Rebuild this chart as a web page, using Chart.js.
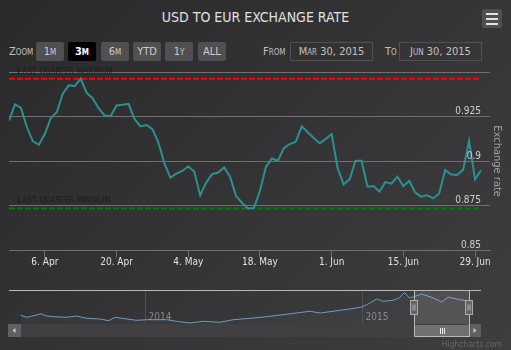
<!DOCTYPE html>
<html>
<head>
<meta charset="utf-8">
<title>USD to EUR exchange rate</title>
<script src="https://cdn.jsdelivr.net/npm/chart.js@4.4.1/dist/chart.umd.min.js"></script>
<style>
  html, body { margin: 0; padding: 0; }
  body {
    width: 511px; height: 350px; overflow: hidden; position: relative;
    background: linear-gradient(135deg, #2a2a2b 0%, #3e3e40 100%);
    font-family: "Liberation Sans Narrow", "DejaVu Sans Condensed", "Roboto Condensed", sans-serif;
    color: #E0E0E3;
  }
  #title {
    position: absolute; left: 0; top: 7px; width: 511px; text-align: center;
    font-size: 14px; line-height: 20px; letter-spacing: 0; color: #E0E0E3;
  }
  #menu {
    position: absolute; left: 482px; top: 9px; width: 20px; height: 19px;
    background: #505053; border-radius: 2px;
  }
  #menu span {
    position: absolute; left: 4px; width: 12px; height: 2px; background: #E0E0E3;
  }
  .ui {
    position: absolute; top: 42px; height: 19px; line-height: 19px;
    font-size: 11px; font-variant: small-caps; color: #C0C0C3;
  }
  .btn {
    width: 28px; text-align: center; background: #505053; color: #CCC; border-radius: 2px;
  }
  .btn.sel { background: #000003; color: #FFF; font-weight: bold; }
  .box {
    box-sizing: border-box; width: 83px; text-align: center;
    border: 1px solid #505053; color: #C0C0C0; line-height: 17px;
  }
  #mainWrap { position: absolute; left: 0; top: 0; width: 511px; height: 270px; }
  #navWrap { position: absolute; left: 0; top: 280px; width: 511px; height: 70px; }
  #credits {
    position: absolute; right: 9px; bottom: 1px; font-size: 8.5px; color: #666;
  }
</style>
</head>
<body>
<div id="title">USD TO EUR EXCHANGE RATE</div>
<div id="menu"><span style="top:4px"></span><span style="top:9px"></span><span style="top:14px"></span></div>

<div class="ui" style="left:9px">Zoom</div>
<div class="ui btn" style="left:36px">1m</div>
<div class="ui btn sel" style="left:68px">3m</div>
<div class="ui btn" style="left:101px">6m</div>
<div class="ui btn" style="left:133px">YTD</div>
<div class="ui btn" style="left:165px">1y</div>
<div class="ui btn" style="left:198px">ALL</div>
<div class="ui" style="left:263px">From</div>
<div class="ui box" id="fromBox" style="left:290px"></div>
<div class="ui" style="left:385px">To</div>
<div class="ui box" id="toBox" style="left:399px"></div>

<div id="mainWrap"><canvas id="mainChart"></canvas></div>
<div id="navWrap"><canvas id="navChart"></canvas></div>
<div id="credits">Highcharts.com</div>

<script>
"use strict";

const fontStack = '"Liberation Sans Narrow", "DejaVu Sans Condensed", "Roboto Condensed", sans-serif';

// daily rates shown in the main panel, 30 Mar 2015 to 30 Jun 2015
const rates = [
  0.9227, 0.9318, 0.9299, 0.9190, 0.9111, 0.9092, 0.9152, 0.9242, 0.9274, 0.9378,
  0.9425, 0.9421, 0.9462, 0.9383, 0.9353, 0.9297, 0.9256, 0.9252, 0.9312, 0.9316,
  0.9321, 0.9237, 0.9195, 0.9203, 0.9180, 0.9105, 0.8989, 0.8908, 0.8930, 0.8945,
  0.8970, 0.8942, 0.8808, 0.8880, 0.8927, 0.8936, 0.8964, 0.8913, 0.8804, 0.8767,
  0.8735, 0.8737, 0.8833, 0.8968, 0.9015, 0.9002, 0.9073, 0.9096, 0.9109, 0.9195,
  0.9162, 0.9130, 0.9100, 0.9124, 0.9152, 0.8960, 0.8870, 0.8898, 0.9002, 0.9002,
  0.8857, 0.8861, 0.8829, 0.8883, 0.8874, 0.8913, 0.8861, 0.8889, 0.8823, 0.8801,
  0.8808, 0.8791, 0.8819, 0.8951, 0.8925, 0.8923, 0.8951, 0.9115, 0.8898, 0.8949,
];

const dateTickIndex = [6, 18, 30, 42, 54, 66, 78];
const dateTickLabels = ["6. Apr", "20. Apr", "4. May", "18. May", "1. Jun", "15. Jun", "29. Jun"];

const rateTicks = [0.85, 0.875, 0.9, 0.925, 0.95];
const rateTickLabels = ["0.85", "0.875", "0.9", "0.925", ""];
const rateAxisTitle = "Exchange rate";

const rangeFrom = "2015-03-30";
const rangeTo = "2015-06-30";

// long history for the navigator strip
const navDates = [
  "2013-06-05", "2013-06-15", "2013-06-23", "2013-07-09", "2013-07-16", "2013-07-30",
  "2013-08-21", "2013-09-07", "2013-09-24", "2013-10-17", "2013-10-31", "2013-11-11",
  "2013-12-01", "2013-12-17", "2014-01-03", "2014-02-06", "2014-02-23", "2014-03-17",
  "2014-04-09", "2014-05-07", "2014-05-29", "2014-06-27", "2014-07-30", "2014-09-02",
  "2014-10-06", "2014-10-23", "2014-11-20", "2014-12-12", "2015-01-01", "2015-01-15",
  "2015-01-26", "2015-02-06", "2015-02-23", "2015-03-05", "2015-03-14", "2015-03-22",
  "2015-04-01", "2015-04-12", "2015-04-29", "2015-05-16", "2015-05-27", "2015-06-10",
  "2015-06-30",
];
const navRates = [
  0.7755, 0.7603, 0.7679, 0.7876, 0.7725, 0.7649,
  0.7603, 0.7702, 0.7527, 0.7474, 0.7345, 0.7603,
  0.7474, 0.7376, 0.7421, 0.7421, 0.7300, 0.7171,
  0.7300, 0.7224, 0.7421, 0.7527, 0.7679, 0.7876,
  0.8058, 0.7929, 0.8104, 0.8233, 0.8385, 0.8688,
  0.8992, 0.8817, 0.8893, 0.9068, 0.9500, 0.9068,
  0.9197, 0.9371, 0.9121, 0.8764, 0.9143, 0.8992,
  0.8817,
];
const navYears = ["2014", "2015"];
const navWindow = ["2013-05-16", "2015-07-21"];

const monthNames = ["Jan", "Feb", "Mar", "Apr", "May", "Jun", "Jul", "Aug", "Sep", "Oct", "Nov", "Dec"];

function dayNumber(iso) {
  return Date.parse(iso) / 86400000;
}

function formatDate(iso) {
  let d = new Date(iso);
  return monthNames[d.getUTCMonth()] + " " + d.getUTCDate() + ", " + d.getUTCFullYear();
}

document.getElementById("fromBox").textContent = formatDate(rangeFrom);
document.getElementById("toBox").textContent = formatDate(rangeTo);

const maxRate = Math.max(...rates);
const minRate = Math.min(...rates);

const plotLines = [
  { value: maxRate, text: "Last quarter maximum" },
  { value: minRate, text: "Last quarter minimum" },
];

Chart.defaults.font.family = fontStack;

// text labels sitting just above the max / min lines
const plotLineLabels = {
  id: "plotLineLabels",
  afterDatasetsDraw(chart) {
    let ctx = chart.ctx;
    let y = chart.scales.y;
    ctx.save();
    ctx.font = "small-caps 11px " + fontStack;
    ctx.fillStyle = "#1e1e1e";
    ctx.textAlign = "left";
    ctx.textBaseline = "alphabetic";
    for (let line of plotLines) {
      ctx.fillText(line.text, chart.chartArea.left + 8, y.getPixelForValue(line.value) - 5);
    }
    ctx.restore();
  },
};

// y labels sit inside the plot, right aligned, just above each grid line;
// the axis title runs down the right edge
const rateAxisLabels = {
  id: "rateAxisLabels",
  afterDraw(chart) {
    let ctx = chart.ctx;
    let a = chart.chartArea;
    let y = chart.scales.y;
    ctx.save();
    ctx.font = "10px " + fontStack;
    ctx.fillStyle = "#D0D0D3";
    ctx.textAlign = "right";
    ctx.textBaseline = "middle";
    rateTicks.forEach((v, i) => {
      ctx.fillText(rateTickLabels[i], a.right - 9, y.getPixelForValue(v) - 5);
    });
    ctx.translate(a.right + 7, (a.top + a.bottom) / 2);
    ctx.rotate(Math.PI / 2);
    ctx.font = "11px " + fontStack;
    ctx.fillStyle = "#A0A0A3";
    ctx.textAlign = "center";
    ctx.fillText(rateAxisTitle, 0, 0);
    ctx.restore();
  },
};

function flatLine(value) {
  return [{ x: 0, y: value }, { x: rates.length - 1, y: value }];
}

new Chart(document.getElementById("mainChart"), {
  type: "line",
  data: {
    datasets: [
      {
        label: "USD to EUR",
        data: rates.map((r, i) => ({ x: i, y: r })),
        borderColor: "#2b908f",
        borderWidth: 2,
        pointRadius: 0,
        tension: 0,
      },
      {
        label: "Last quarter maximum",
        data: flatLine(maxRate),
        borderColor: "#ff0000",
        borderWidth: 2,
        borderDash: [6, 2],
        pointRadius: 0,
      },
      {
        label: "Last quarter minimum",
        data: flatLine(minRate),
        borderColor: "#008000",
        borderWidth: 2,
        borderDash: [6, 2],
        pointRadius: 0,
      },
    ],
  },
  options: {
    animation: false,
    responsive: true,
    maintainAspectRatio: false,
    layout: { padding: { left: 9, top: 72, right: 21, bottom: 2.7 } },
    plugins: { legend: { display: false }, tooltip: { enabled: false } },
    scales: {
      x: {
        type: "linear",
        min: 0,
        max: rates.length + 0.5,
        afterBuildTicks: (scale) => {
          scale.ticks = dateTickIndex.map((v) => ({ value: v }));
        },
        ticks: {
          autoSkip: false,
          maxRotation: 0,
          padding: -1,
          color: "#E0E0E3",
          font: { size: 10 },
          callback: (value) => dateTickLabels[dateTickIndex.indexOf(value)],
        },
        grid: { drawOnChartArea: false, color: "#707073", tickLength: 7 },
        border: { color: "#707073" },
      },
      y: {
        position: "right",
        min: 0.85,
        max: 0.95,
        afterBuildTicks: (scale) => {
          scale.ticks = rateTicks.map((v) => ({ value: v }));
        },
        ticks: { display: false },
        grid: { color: "#707073", drawTicks: false },
        border: { display: false },
      },
    },
  },
  plugins: [plotLineLabels, rateAxisLabels],
});

// year grid, selection mask, handles and scrollbar of the navigator
const navDecor = {
  id: "navDecor",
  beforeDatasetsDraw(chart) {
    let ctx = chart.ctx;
    let a = chart.chartArea;
    let x = chart.scales.x;
    ctx.save();
    ctx.strokeStyle = "#505053";
    ctx.lineWidth = 1;
    ctx.fillStyle = "#888";
    ctx.font = "10px " + fontStack;
    ctx.textBaseline = "alphabetic";
    for (let year of navYears) {
      let px = Math.round(x.getPixelForValue(dayNumber(year + "-01-01"))) + 0.5;
      ctx.beginPath();
      ctx.moveTo(px, a.top);
      ctx.lineTo(px, a.bottom);
      ctx.stroke();
      ctx.fillText(year, px + 3, a.bottom - 4);
    }
    ctx.restore();
  },
  afterDatasetsDraw(chart) {
    let ctx = chart.ctx;
    let a = chart.chartArea;
    let x = chart.scales.x;
    let xs = Math.round(x.getPixelForValue(dayNumber(rangeFrom))) + 0.5;
    let xe = Math.round(x.getPixelForValue(dayNumber(rangeTo))) + 0.5;
    let barTop = a.bottom;
    let barBottom = a.bottom + 13;
    ctx.save();

    // scrollbar track and buttons
    ctx.fillStyle = "#404043";
    ctx.fillRect(a.left - 1, barTop, a.right - a.left + 1, 13);
    ctx.fillStyle = "#606063";
    ctx.fillRect(a.left - 1, barTop, 13, 13);
    ctx.fillRect(a.right - 13, barTop, 13, 13);
    ctx.fillStyle = "#CCC";
    ctx.beginPath();
    ctx.moveTo(a.left + 3.5, barTop + 6.5);
    ctx.lineTo(a.left + 6.5, barTop + 4);
    ctx.lineTo(a.left + 6.5, barTop + 9);
    ctx.fill();
    ctx.beginPath();
    ctx.moveTo(a.right - 4.5, barTop + 6.5);
    ctx.lineTo(a.right - 7.5, barTop + 4);
    ctx.lineTo(a.right - 7.5, barTop + 9);
    ctx.fill();

    // scrollbar thumb with rifles
    ctx.fillStyle = "#707073";
    ctx.fillRect(xs, barTop + 1, xe - xs, 12);
    ctx.strokeStyle = "#EEE";
    ctx.lineWidth = 1;
    let mid = Math.round((xs + xe) / 2) + 0.5;
    for (let k = -2; k <= 2; k += 2) {
      ctx.beginPath();
      ctx.moveTo(mid + k, barTop + 4);
      ctx.lineTo(mid + k, barTop + 10);
      ctx.stroke();
    }

    // selected range mask
    ctx.fillStyle = "rgba(255,255,255,0.1)";
    ctx.fillRect(xs, a.top, xe - xs, a.bottom - a.top);

    // outline
    ctx.strokeStyle = "#B8B8B8";
    ctx.beginPath();
    ctx.moveTo(a.left, a.top + 0.5);
    ctx.lineTo(a.right, a.top + 0.5);
    ctx.moveTo(xs, a.top);
    ctx.lineTo(xs, barBottom - 0.5);
    ctx.lineTo(xe, barBottom - 0.5);
    ctx.lineTo(xe, a.top);
    ctx.stroke();

    // handles
    for (let hx of [xs, xe]) {
      let top = a.top + 10.5;
      ctx.fillStyle = "#666";
      ctx.fillRect(hx - 4, top, 7, 14);
      ctx.strokeStyle = "#AAA";
      ctx.strokeRect(hx - 4, top, 7, 14);
      ctx.beginPath();
      ctx.moveTo(hx - 1.5, top + 4);
      ctx.lineTo(hx - 1.5, top + 10);
      ctx.moveTo(hx + 0.5, top + 4);
      ctx.lineTo(hx + 0.5, top + 10);
      ctx.stroke();
    }
    ctx.restore();
  },
};

new Chart(document.getElementById("navChart"), {
  type: "line",
  data: {
    datasets: [
      {
        label: "USD to EUR",
        data: navDates.map((d, i) => ({ x: dayNumber(d), y: navRates[i] })),
        borderColor: "#7798BF",
        backgroundColor: "rgba(119,152,191,0.06)",
        fill: "start",
        borderWidth: 1,
        pointRadius: 0,
        tension: 0,
      },
    ],
  },
  options: {
    animation: false,
    responsive: true,
    maintainAspectRatio: false,
    layout: { padding: { left: 9, top: 10, right: 30, bottom: 26 } },
    plugins: { legend: { display: false }, tooltip: { enabled: false } },
    scales: {
      x: { type: "linear", display: false, min: dayNumber(navWindow[0]), max: dayNumber(navWindow[1]) },
      y: { display: false, min: 0.7095, max: 0.9675 },
    },
  },
  plugins: [navDecor],
});
</script>
</body>
</html>
